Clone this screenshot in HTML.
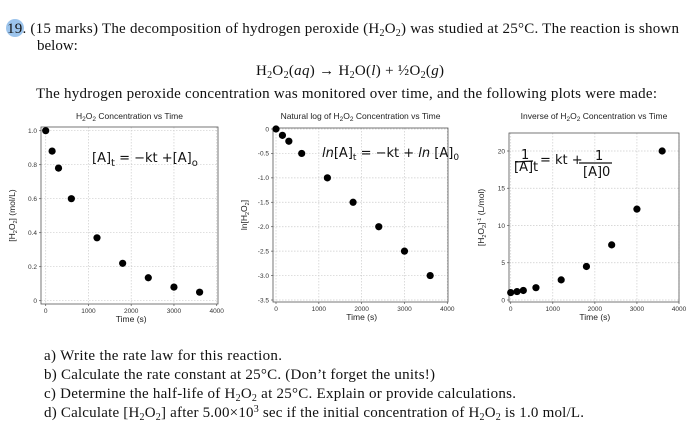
<!DOCTYPE html>
<html><head><meta charset="utf-8"><style>
html,body{margin:0;padding:0;background:#fff;width:700px;height:439px;overflow:hidden}
svg{display:block}
.t{font-family:"Liberation Serif",serif;font-size:15px;fill:#111}
.ct{font-family:"Liberation Sans",sans-serif;font-size:8.5px;fill:#222}
.tk{font-family:"Liberation Sans",sans-serif;font-size:6.5px;fill:#333}
.hw{font-family:"DejaVu Sans",sans-serif;font-size:13px;fill:#111}
</style></head><body>
<svg id="page" width="700" height="439" viewBox="0 0 700 439">
<circle cx="15" cy="28" r="9" fill="#9cc4ec"/>
<text class="t" x="7" y="33" textLength="672" lengthAdjust="spacing">19. (15 marks) The decomposition of hydrogen peroxide (H<tspan font-size="10" dy="3">2</tspan><tspan dy="-3">O</tspan><tspan font-size="10" dy="3">2</tspan><tspan dy="-3">) was studied at 25°C. The reaction is shown</tspan></text>
<text class="t" x="37" y="50">below:</text>
<text class="t" x="256" y="75" textLength="188" lengthAdjust="spacing">H<tspan font-size="10" dy="3">2</tspan><tspan dy="-3">O</tspan><tspan font-size="10" dy="3">2</tspan><tspan dy="-3">(</tspan><tspan font-style="italic">aq</tspan>) → H<tspan font-size="10" dy="3">2</tspan><tspan dy="-3">O(</tspan><tspan font-style="italic">l</tspan>) + ½O<tspan font-size="10" dy="3">2</tspan><tspan dy="-3">(</tspan><tspan font-style="italic">g</tspan>)</text>
<text class="t" x="36" y="98" textLength="621" lengthAdjust="spacing">The hydrogen peroxide concentration was monitored over time, and the following plots were made:</text>
<g id="charts"></g>
<text class="t" x="44" y="360" textLength="238" lengthAdjust="spacing">a)  Write the rate law for this reaction.</text>
<text class="t" x="44" y="379" textLength="391" lengthAdjust="spacing">b)  Calculate the rate constant at 25°C. (Don’t forget the units!)</text>
<text class="t" x="44" y="398" textLength="472" lengthAdjust="spacing">c)  Determine the half-life of H<tspan font-size="10" dy="3">2</tspan><tspan dy="-3">O</tspan><tspan font-size="10" dy="3">2</tspan><tspan dy="-3"> at 25°C. Explain or provide calculations.</tspan></text>
<text class="t" x="44" y="417" textLength="540" lengthAdjust="spacing">d)  Calculate [H<tspan font-size="10" dy="3">2</tspan><tspan dy="-3">O</tspan><tspan font-size="10" dy="3">2</tspan><tspan dy="-3">] after 5.00×10</tspan><tspan font-size="10" dy="-5">3</tspan><tspan dy="5"> sec if the initial concentration of H</tspan><tspan font-size="10" dy="3">2</tspan><tspan dy="-3">O</tspan><tspan font-size="10" dy="3">2</tspan><tspan dy="-3"> is 1.0 mol/L.</tspan></text>
</svg>
<script>
const times = [0,150,300,600,1200,1800,2400,3000,3600];
const concValues = [1.0,0.88,0.78,0.60,0.37,0.22,0.135,0.08,0.05];
const lnValues = [0,-0.13,-0.25,-0.5,-1.0,-1.5,-2.0,-2.5,-3.0];
const invValues = [1.0,1.13,1.28,1.65,2.7,4.5,7.4,12.2,20];
const xTicks = [0,1000,2000,3000,4000];
const concTicks = [0,0.2,0.4,0.6,0.8,1.0];
const concTickLabels = ["0","0.2","0.4","0.6","0.8","1.0"];
const lnTicks = [0,-0.5,-1.0,-1.5,-2.0,-2.5,-3.0,-3.5];
const lnTickLabels = ["0","-0.5","-1.0","-1.5","-2.0","-2.5","-3.0","-3.5"];
const invTicks = [0,5,10,15,20];
const invTickLabels = ["0","5","10","15","20"];

const NS="http://www.w3.org/2000/svg";
const root=document.getElementById('charts');
function mk(tag,attrs,parent,txt){const e=document.createElementNS(NS,tag);for(const k in attrs)e.setAttribute(k,attrs[k]);if(txt!==undefined)e.textContent=txt;parent.appendChild(e);return e;}

function chart(c){
  const g=mk('g',{},root);
  
  
  const xs=v=>c.x0+(v-0)/4000*(c.x1-c.x0);
  const ys=v=>c.y0+(v-c.ymin)/(c.ymaxRef-c.ymin)*(c.yRef-c.y0);
  xTicks.forEach(v=>{
    const x=xs(v);
    mk('line',{x1:x,x2:x,y1:c.ft,y2:c.fb,stroke:'#ccc','stroke-dasharray':'1.5,1.5','stroke-width':0.7},g);
    mk('line',{x1:x,x2:x,y1:c.fb,y2:c.fb+2,stroke:'#555','stroke-width':0.7},g);
    const t=mk('text',{x:x,y:c.fb+9,'text-anchor':'middle',class:'tk'},g,String(v));
    
    
  });
  c.ticks.forEach((v,i)=>{
    const y=ys(v);
    mk('line',{x1:c.fl,x2:c.fr,y1:y,y2:y,stroke:'#ccc','stroke-dasharray':'1.5,1.5','stroke-width':0.7},g);
    mk('line',{x1:c.fl-2,x2:c.fl,y1:y,y2:y,stroke:'#555','stroke-width':0.7},g);
    const t=mk('text',{x:c.fl-4,y:y+2.3,'text-anchor':'end',class:'tk'},g,c.labels[i]);
    
    
  });
  const fr=mk('rect',{x:c.fl,y:c.ft,width:c.fr-c.fl,height:c.fb-c.ft,fill:'none',stroke:'#555','stroke-width':0.8},g);
  
  
  const tt=mk('text',{x:(c.fl+c.fr)/2,y:119,'text-anchor':'middle',class:'ct'},g);
  tt.innerHTML=c.title;
  
  
  const xt=mk('text',{x:xs(2000),y:c.fb+18,'text-anchor':'middle',class:'ct','font-size':'7.5'},g,'Time (s)');
  
  
  const yt=mk('text',{x:0,y:0,'text-anchor':'middle',class:'ct','font-size':'7',transform:`translate(${c.yax},${(c.ft+c.fb)/2}) rotate(-90)`},g);
  yt.innerHTML=c.ytitle;
  
  
  c.vals.forEach((v,i)=>{
    const p=mk('circle',{cx:xs(times[i]),cy:ys(v),r:3.6,fill:'#000'},g);
    
    
  });
  if(c.hw){
    const hw=mk('text',{x:c.hx,y:c.hy,class:'hw'},g);
    hw.innerHTML=c.hw;
    
    
  }
}
chart({name:'concentration-chart',x0:45.7,x1:216.7,y0:300.7,ymin:0,yRef:130.7,ymaxRef:1.0,fl:41,fr:218,ft:127,fb:304,
 ticks:concTicks,labels:concTickLabels,vals:concValues,yax:15,
 title:'H<tspan font-size="6.5" dy="2">2</tspan><tspan dy="-2">O</tspan><tspan font-size="6.5" dy="2">2</tspan><tspan dy="-2"> Concentration vs Time</tspan>',
 ytitle:'[H<tspan font-size="5.5" dy="2">2</tspan><tspan dy="-2">O</tspan><tspan font-size="5.5" dy="2">2</tspan><tspan dy="-2">] (mol/L)</tspan>',
 hw:'[A]<tspan font-size="10" dy="4">t</tspan><tspan dy="-4"> = −kt +[A]</tspan><tspan font-size="10" dy="4">o</tspan>',hx:92,hy:162});
chart({name:'ln-concentration-chart',x0:276,x1:447.3,y0:129,ymin:0,yRef:300,ymaxRef:-3.5,fl:273,fr:448,ft:128,fb:302,
 ticks:lnTicks,labels:lnTickLabels,vals:lnValues,yax:247,
 title:'Natural log of H<tspan font-size="6.5" dy="2">2</tspan><tspan dy="-2">O</tspan><tspan font-size="6.5" dy="2">2</tspan><tspan dy="-2"> Concentration vs Time</tspan>',
 ytitle:'ln[H<tspan font-size="5.5" dy="2">2</tspan><tspan dy="-2">O</tspan><tspan font-size="5.5" dy="2">2</tspan><tspan dy="-2">]</tspan>',
 hw:'<tspan font-style="italic">ln</tspan>[A]<tspan font-size="9" dy="3">t</tspan><tspan dy="-3"> = −kt + </tspan><tspan font-style="italic">ln</tspan> [A]<tspan font-size="9" dy="3">0</tspan>',hx:322,hy:157});
chart({name:'inverse-concentration-chart',x0:510.7,x1:679,y0:300,ymin:0,yRef:151,ymaxRef:20,fl:509,fr:679,ft:133,fb:302,
 ticks:invTicks,labels:invTickLabels,vals:invValues,yax:484,
 title:'Inverse of H<tspan font-size="6.5" dy="2">2</tspan><tspan dy="-2">O</tspan><tspan font-size="6.5" dy="2">2</tspan><tspan dy="-2"> Concentration vs Time</tspan>',
 ytitle:'[H<tspan font-size="5.5" dy="2">2</tspan><tspan dy="-2">O</tspan><tspan font-size="5.5" dy="2">2</tspan><tspan dy="-2">]</tspan><tspan font-size="5.5" dy="-3">-1</tspan><tspan dy="3"> (L/mol)</tspan>',
 hw:'',hx:0,hy:0});
(function(){
  const g=mk('g',{},root);
  
  
  mk('text',{x:521,y:159,class:'hw','font-size':'10'},g,'1');
  mk('line',{x1:515,x2:533,y1:162,y2:161,stroke:'#111','stroke-width':1.2},g);
  mk('text',{x:514,y:171,class:'hw','font-size':'7.5'},g,'[A]t');
  mk('text',{x:540,y:164,class:'hw','font-size':'10'},g,'= kt  +');
  mk('line',{x1:579,x2:612,y1:163,y2:163,stroke:'#111','stroke-width':1.2},g);
  mk('text',{x:595,y:160,class:'hw','font-size':'10'},g,'1');
  mk('text',{x:583,y:176,class:'hw','font-size':'7.5'},g,'[A]0');
})();
</script>
</body></html>
